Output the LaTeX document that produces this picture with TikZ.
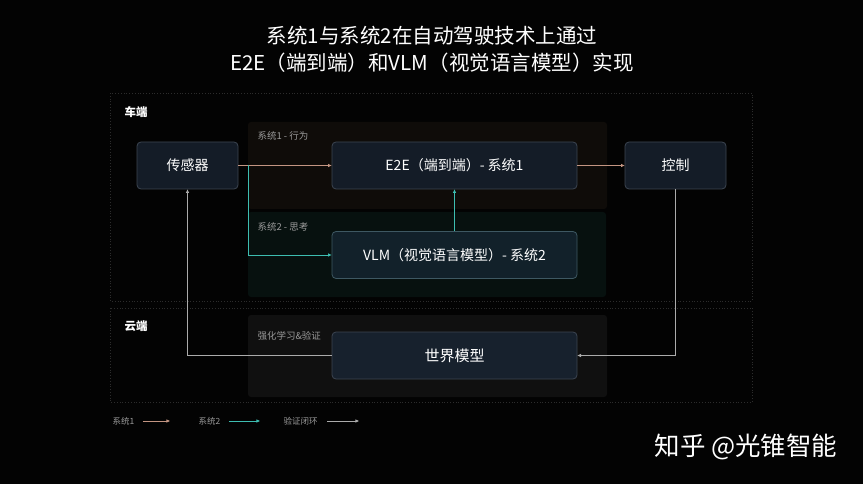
\documentclass[tikz,border=0pt]{standalone}
\usepackage{fontspec}
\setmainfont{Noto Sans CJK SC}
\usetikzlibrary{arrows.meta}
\definecolor{bgc}{HTML}{030303}
\definecolor{boxfill}{HTML}{141C27}
\definecolor{boxline}{HTML}{3C4551}
\definecolor{vlmfill}{HTML}{12212A}
\definecolor{vlmline}{HTML}{3E5862}
\definecolor{worldfill}{HTML}{17212D}
\definecolor{sysone}{HTML}{0F0C09}
\definecolor{systwo}{HTML}{07110F}
\definecolor{cloudreg}{HTML}{101010}
\definecolor{dotc}{HTML}{2C2C2C}
\definecolor{peach}{HTML}{C39582}
\definecolor{tealc}{HTML}{3DBDB1}
\definecolor{loopc}{HTML}{ABABAB}
\definecolor{labelc}{HTML}{9A9A9A}
\begin{document}
\begin{tikzpicture}[x=1pt,y=-1pt,
  blk/.style={draw=boxline,fill=boxfill,rounded corners=4pt,line width=0.8pt,
    minimum height=47pt,text=white,font=\fontsize{14}{16}\selectfont,inner sep=0pt},
  smallblk/.style={blk,minimum width=101pt},
  wideblk/.style={blk,minimum width=245pt},
  zone/.style={draw=dotc,dotted,line width=0.8pt},
  region/.style={rounded corners=3pt},
  zonelabel/.style={anchor=west,text=white,font=\bfseries\fontsize{11.5}{13}\selectfont},
  reglabel/.style={anchor=west,text=labelc,font=\fontsize{9.5}{11}\selectfont},
  tip/.style={-{Triangle[length=3.6pt,width=3pt]}},
  oneline/.style={tip,draw=peach,line width=0.8pt},
  twoline/.style={tip,draw=tealc,line width=0.8pt},
  loopline/.style={tip,draw=loopc,line width=0.8pt},
  legtext/.style={anchor=west,text=labelc,font=\fontsize{8.5}{10}\selectfont}]
\useasboundingbox (0,0) rectangle (863,484);
\fill[bgc] (0,0) rectangle (863,484);

% title
\node[text=white,align=center,font=\fontsize{20.5}{27}\selectfont] (title) at (432,49)
  {系统1与系统2在自动驾驶技术上通过\\E2E（端到端）和VLM（视觉语言模型）实现};

% zones
\draw[zone] (110,93) rectangle (752,301);
\draw[zone] (110,308) rectangle (752,402);
\node[zonelabel] (car) at (121,112) {车端};
\node[zonelabel] (cloud) at (121,326) {云端};

% regions
\fill[sysone,region] (248,122) rectangle (607,209);
\fill[systwo,region] (248,212) rectangle (606,297);
\fill[cloudreg,region] (248,315) rectangle (607,397);
\node[reglabel] (r1) at (254,136) {系统1 - 行为};
\node[reglabel] (r2) at (254,227) {系统2 - 思考};
\node[reglabel] (r3) at (254,336) {强化学习\&验证};

% blocks
\node[smallblk] (sensor) at (187.5,165.5) {传感器};
\node[wideblk] (e2e) at (454.5,165.5) {E2E（端到端）- 系统1};
\node[smallblk] (ctrl) at (675.5,165.5) {控制};
\node[wideblk,fill=vlmfill,draw=vlmline] (vlm) at (454.5,255) {VLM（视觉语言模型）- 系统2};
\node[wideblk,fill=worldfill] (world) at (454.5,355.5) {\fontsize{15}{18}\selectfont 世界模型};

% connectors
\draw[oneline] (sensor.east) -- (e2e.west);
\draw[oneline] (e2e.east) -- (ctrl.west);
\coordinate (split) at (248,165.5);
\draw[twoline] (split) |- (vlm.west);
\draw[twoline] (vlm.north) -- (e2e.south);
\draw[loopline] (ctrl.south) |- (world.east);
\draw[loopline] (world.west) -| (sensor.south);

% legend
\node[legtext] (lg1) at (109,421) {系统1};
\coordinate (lg1e) at (170,421);
\draw[oneline] ([xshift=5pt]lg1.east) -- (lg1e);
\node[legtext] (lg2) at (195,421) {系统2};
\coordinate (lg2e) at (260,421);
\draw[twoline] ([xshift=5pt]lg2.east) -- (lg2e);
\node[legtext] (lg3) at (280,421) {验证闭环};
\coordinate (lg3e) at (359,421);
\draw[loopline] ([xshift=6pt]lg3.east) -- (lg3e);

% watermark
\node[anchor=west,text=white,font=\fontsize{25.5}{28}\selectfont] (wm) at (651,447) {知乎 @光锥智能};
\end{tikzpicture}
\end{document}
